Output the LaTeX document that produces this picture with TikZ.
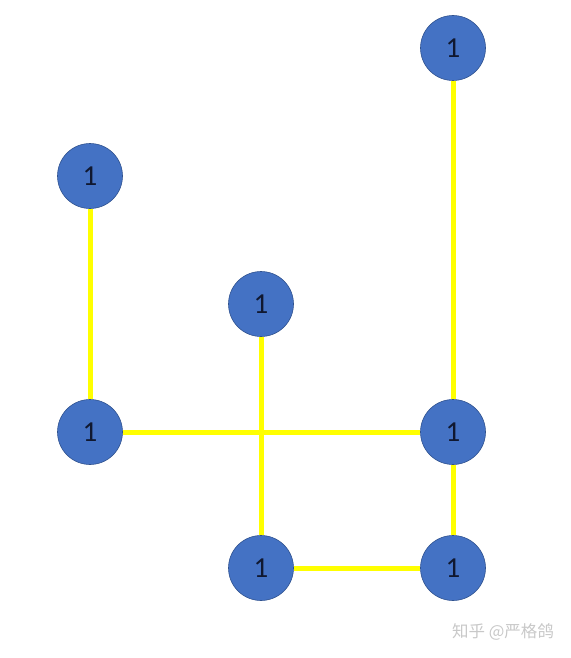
\documentclass[tikz,border=0pt]{standalone}
\usepackage{fontspec}
\setmainfont{Carlito}
\newfontfamily\cjk{Noto Sans CJK SC}
\definecolor{nodeblue}{HTML}{4472C4}
\definecolor{nodeedge}{HTML}{2F528F}
\definecolor{edgeyellow}{HTML}{FFFF00}
\definecolor{wmgray}{HTML}{C8C8C8}
\definecolor{digit}{HTML}{101830}
\begin{document}
\begin{tikzpicture}[x=1pt,y=-1pt,
  vertex/.style={circle,fill=nodeblue,draw=nodeedge,line width=0.6pt,minimum size=65pt,inner sep=0pt,font=\fontsize{29}{31}\selectfont,text=digit},
  link/.style={draw=edgeyellow,line width=5pt}]
\useasboundingbox (0,0) rectangle (570,658);
\node[vertex] (a) at (453,48) {1};
\node[vertex] (b) at (90,176) {1};
\node[vertex] (c) at (261,304) {1};
\node[vertex] (d) at (90,432) {1};
\node[vertex] (e) at (453,432) {1};
\node[vertex] (f) at (261,568) {1};
\node[vertex] (g) at (453,568) {1};
\draw[link] (b) -- (d);
\draw[link] (a) -- (e);
\draw[link] (e) -- (g);
\draw[link] (d) -- (e);
\draw[link] (c) -- (f);
\draw[link] (f) -- (g);
\node[font=\cjk\fontsize{16.5}{18}\selectfont,text=wmgray] (wm) at (503,632) {知乎 @严格鸽};
\end{tikzpicture}
\end{document}
